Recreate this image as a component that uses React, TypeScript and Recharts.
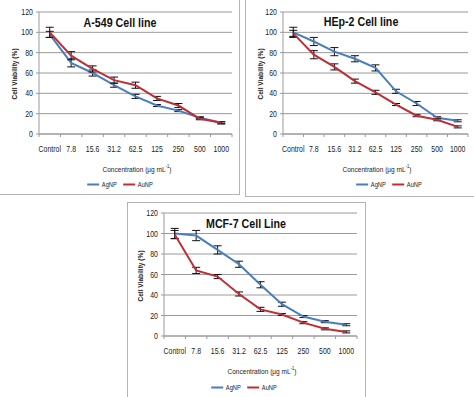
import React from 'react';
import { LineChart, Line, XAxis, YAxis, CartesianGrid, ErrorBar } from 'recharts';

const concentrations = ['Control', '7.8', '15.6', '31.2', '62.5', '125', '250', '500', '1000'];
const seriesNames = ['AgNP', 'AuNP'];
const yTicks = [0, 20, 40, 60, 80, 100, 120];

// A-549 cell line
const a549Ag = [98, 70, 60, 48, 37, 28, 23, 16, 11];
const a549AgErr = [3, 4, 3, 2, 2, 1, 1, 1, 1];
const a549Au = [100, 77, 64, 53, 48, 35, 28, 15, 11];
const a549AuErr = [5, 4, 3, 3, 3, 2, 2, 1, 1];

// HEp-2 cell line
const hep2Ag = [100, 91, 81, 74, 65, 42, 30, 16, 13];
const hep2AgErr = [5, 4, 4, 3, 3, 2, 2, 1, 1];
const hep2Au = [99, 78, 66, 52, 41, 29, 18, 14, 7];
const hep2AuErr = [3, 4, 3, 2, 2, 1, 1, 1, 1];

// MCF-7 cell line
const mcf7Ag = [100, 98, 84, 70, 50, 31, 19, 14, 11];
const mcf7AgErr = [5, 5, 4, 3, 3, 2, 1, 1, 1];
const mcf7Au = [99, 64, 58, 41, 26, 21, 13, 7, 4];
const mcf7AuErr = [4, 3, 2, 2, 2, 1, 1, 1, 1];

const AG_COLOR = '#4a7cc0';
const AU_COLOR = '#bd2e35';
const GRID = '#9a9a9a';
// no narrow font installed: squeeze Liberation Sans to Arial Narrow width
const FONT = "'Liberation Sans', Arial, sans-serif";
const SQUEEZE = 0.82;
const Y_W = 24;
const X_H = 20;

type Row = { c: string; ag: number; agErr: number; au: number; auErr: number };

const buildRows = (ag: number[], agErr: number[], au: number[], auErr: number[]): Row[] =>
  concentrations.map((c, i) => ({ c, ag: ag[i], agErr: agErr[i], au: au[i], auErr: auErr[i] }));

type PanelProps = {
  x: number; y: number; w: number; h: number;
  plot: { l: number; r: number; t: number; b: number };
  title: string; titleX: number; titleY: number;
  yLabelX: number; legendX: number; legendY: number;
  rows: Row[];
};

const centered = (x: number, y: number, extra = ''): React.CSSProperties => ({
  position: 'absolute', left: x, top: y, transform: `translate(-50%, -50%) ${extra}`,
  whiteSpace: 'nowrap', lineHeight: 1, fontFamily: FONT,
});

const YTick = (props: any) => {
  const { x, y, payload } = props;
  return (
    <text transform={`translate(${x},${y + 3}) scale(${SQUEEZE},1)`} textAnchor="end" fontSize={8.5} fill="#222" fontFamily={FONT}>
      {payload.value}
    </text>
  );
};

const Panel: React.FC<PanelProps> = ({ x, y, w, h, plot, title, titleX, titleY, yLabelX, legendX, legendY, rows }) => {
  const half = (plot.r - plot.l) / concentrations.length / 2;

  const CategoryTick = (props: any) => {
    const { x: tx, y: ty, payload, index } = props;
    const base = ty - 12;
    return (
      <g>
        <line x1={tx - half} x2={tx - half} y1={base} y2={base + 3} stroke={GRID} />
        {index === concentrations.length - 1 && (
          <line x1={tx + half} x2={tx + half} y1={base} y2={base + 3} stroke={GRID} />
        )}
        <text transform={`translate(${tx},${ty + 6}) scale(${SQUEEZE},1)`} textAnchor="middle" fontSize={8.5} fill="#222" fontFamily={FONT}>
          {payload.value}
        </text>
      </g>
    );
  };

  return (
    <div style={{ position: 'absolute', left: x, top: y, width: w, height: h, border: '1px solid #b4b4b4', boxSizing: 'border-box', background: '#fff' }}>
      <div style={{ position: 'absolute', left: -1, top: -1 }}>
        <LineChart
          width={w}
          height={h}
          data={rows}
          margin={{ top: plot.t, right: w - plot.r, left: plot.l - Y_W, bottom: h - plot.b - X_H }}
        >
          <CartesianGrid vertical={false} stroke={GRID} />
          <XAxis
            dataKey="c"
            scale="band"
            height={X_H}
            tickLine={false}
            tickSize={0}
            tickMargin={12}
            axisLine={{ stroke: GRID }}
            interval={0}
            tick={CategoryTick}
          />
          <YAxis
            width={Y_W}
            domain={[0, 120]}
            ticks={yTicks}
            interval={0}
            tickSize={3}
            tickMargin={3}
            tickLine={{ stroke: GRID }}
            axisLine={{ stroke: GRID }}
            tick={YTick}
          />
          <Line dataKey="ag" name={seriesNames[0]} stroke={AG_COLOR} strokeWidth={2} dot={false} isAnimationActive={false}>
            <ErrorBar dataKey="agErr" direction="y" width={4} stroke="#111" strokeWidth={1} />
          </Line>
          <Line dataKey="au" name={seriesNames[1]} stroke={AU_COLOR} strokeWidth={2} dot={false} isAnimationActive={false}>
            <ErrorBar dataKey="auErr" direction="y" width={4} stroke="#111" strokeWidth={1} />
          </Line>
        </LineChart>
      </div>

      <div style={{ ...centered(titleX, titleY, `scaleX(${SQUEEZE})`), fontWeight: 'bold', fontSize: 13, color: '#111' }}>
        {title}
      </div>

      <div style={{ ...centered(yLabelX, (plot.t + plot.b) / 2, 'rotate(-90deg)'), fontWeight: 'bold', fontSize: 6.6, color: '#222' }}>
        Cell Viability (%)
      </div>

      <div style={{ ...centered((plot.l + plot.r) / 2, plot.b + 34, `scaleX(${SQUEEZE})`), fontSize: 8, color: '#222' }}>
        Concentration (µg mL<sup style={{ fontSize: 5 }}>-1</sup>)
      </div>

      <div style={{ ...centered(legendX, legendY), display: 'flex', alignItems: 'center', fontSize: 7, color: '#222' }}>
        <span style={{ display: 'inline-block', width: 12, height: 2, background: AG_COLOR, marginRight: 1 }} />
        <span style={{ display: 'inline-block', transform: `scaleX(${SQUEEZE})`, marginRight: 5 }}>{seriesNames[0]}</span>
        <span style={{ display: 'inline-block', width: 12, height: 2, background: AU_COLOR, marginRight: 1 }} />
        <span style={{ display: 'inline-block', transform: `scaleX(${SQUEEZE})` }}>{seriesNames[1]}</span>
      </div>
    </div>
  );
};

export default function App() {
  return (
    <div style={{ position: 'absolute', left: 0, top: 0, width: 474, height: 397, overflow: 'hidden', background: '#fff' }}>
      <Panel
        x={-1} y={-1} w={241} h={196}
        plot={{ l: 40, r: 233, t: 13, b: 135 }}
        title="A-549 Cell line" titleX={120} titleY={22}
        yLabelX={15} legendX={121} legendY={184}
        rows={buildRows(a549Ag, a549AgErr, a549Au, a549AuErr)}
      />
      <Panel
        x={245} y={-1} w={231} h={198}
        plot={{ l: 38, r: 223, t: 13, b: 135 }}
        title="HEp-2 Cell line" titleX={115} titleY={21}
        yLabelX={15} legendX={144} legendY={184}
        rows={buildRows(hep2Ag, hep2AgErr, hep2Au, hep2AuErr)}
      />
      <Panel
        x={127} y={202} w={239} h={200}
        plot={{ l: 37, r: 230, t: 11, b: 134 }}
        title="MCF-7 Cell Line" titleX={118} titleY={20}
        yLabelX={13} legendX={117} legendY={184}
        rows={buildRows(mcf7Ag, mcf7AgErr, mcf7Au, mcf7AuErr)}
      />
    </div>
  );
}
